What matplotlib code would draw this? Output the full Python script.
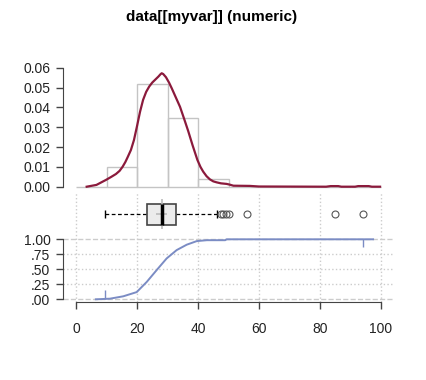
"""
    numeric summary plot: density + boxplot + ecdf
"""

import matplotlib
matplotlib.use("Agg")
import matplotlib.pyplot as plt

# data
title = "data[[myvar]] (numeric)"

hist_edges = [0, 10, 20, 30, 40, 50, 60, 70, 80, 90]
hist_dens = [0.0, 0.0100, 0.0516, 0.0345, 0.0037, 0.0001, 0.0, 0.0, 0.0001, 0.0001]

dens_x = [3.5, 6.7, 9.8, 11.5, 13.1, 14.3, 15.3, 16.2, 17.0, 18.0, 19.0, 20.0,
          21.0, 22.0, 23.0, 24.0, 25.0, 26.0, 27.0, 27.7, 28.1, 28.6, 29.5,
          30.5, 31.4, 32.5, 34.1, 35.5, 36.8, 38.2, 39.8, 40.8, 41.7, 42.8,
          43.9, 45.0, 46.1, 47.5, 49.4, 50.5, 51.6, 57.0, 60.0, 82.0, 83.5,
          86.0, 87.0, 91.5, 92.5, 96.0, 97.0, 99.7]
dens_y = [0.0, 0.0009, 0.0034, 0.0049, 0.0064, 0.0080, 0.0101, 0.0125, 0.0151,
          0.0185, 0.0235, 0.0305, 0.0378, 0.0438, 0.0478, 0.0505, 0.0525,
          0.0540, 0.0555, 0.0567, 0.0572, 0.0568, 0.0552, 0.0525, 0.0496,
          0.0458, 0.0403, 0.0340, 0.0280, 0.0210, 0.0135, 0.0100, 0.0076,
          0.0053, 0.0037, 0.0027, 0.0022, 0.0017, 0.0014, 0.0010, 0.0005,
          0.0004, 0.0001, 0.0, 0.0003, 0.0003, 0.0, 0.0, 0.0003, 0.0003,
          0.0, 0.0]

box_stats = dict(whislo=9.5, q1=23.2, med=28.1, q3=32.7, whishi=46.3)
outliers = [47.4, 48.3, 49.2, 50.3, 56.1, 85.0, 94.1]
mean_val = 28.3
mean_span = [26.2, 29.7]

cdf_x = [6.5, 8.5, 10.0, 11.1, 15.5, 19.9, 23.2, 26.5, 29.7, 33.0, 36.3,
         39.6, 42.9, 48.9, 49.4, 97.4]
cdf_y = [0.0, 0.004, 0.008, 0.01, 0.05, 0.12, 0.29, 0.49, 0.68, 0.82, 0.91,
         0.97, 0.985, 0.985, 1.0, 1.0]
data_min = 9.5
data_max = 94.1

x_ticks = [0, 20, 40, 60, 80, 100]
dens_ticks = [0.0, 0.01, 0.02, 0.03, 0.04, 0.05, 0.06]
dens_labels = ["0.00", "0.01", "0.02", "0.03", "0.04", "0.05", "0.06"]
cdf_ticks = [0.0, 0.25, 0.5, 0.75, 1.0]
cdf_labels = [".00", ".25", ".50", ".75", "1.00"]

# look
plt.rcParams['font.family'] = ['Liberation Sans', 'DejaVu Sans']
W, H = 426, 380
axis_col = '#444444'
grid_col = '#cccccc'
xlim = ((63 - 76) / 3.05, (394 - 76) / 3.05)


def frac(left, top, right, bottom):
    """ pixel box -> figure fraction rect """
    return [left / W, 1 - bottom / H, (right - left) / W, (bottom - top) / H]


fig = plt.figure(figsize=(W / 100, H / 100), dpi=100)
fig.text(212 / W, 1 - 17 / H, title, ha='center', va='center',
         fontsize=11, fontweight='bold')

# density panel
ax1 = fig.add_axes(frac(63, 60, 394, 190))
ax1.bar(hist_edges, hist_dens, width=10, align='edge', fill=False,
        edgecolor='#c4c4c4', linewidth=1)
ax1.plot(dens_x, dens_y, color='#8b1a3c', linewidth=1.6)
ax1.set_xlim(*xlim)
ax1.set_ylim(-3.3 / 1983, 0.06 + 7.7 / 1983)
for s in ['top', 'right', 'bottom']:
    ax1.spines[s].set_visible(False)
ax1.spines['left'].set_bounds(0, 0.06)
ax1.spines['left'].set_color(axis_col)
ax1.set_xticks([])
ax1.set_yticks(dens_ticks, dens_labels)
ax1.tick_params(axis='y', direction='out', length=5, width=1, pad=4,
                color=axis_col, labelsize=10, labelcolor='#222222')

# box panel
ax2 = fig.add_axes(frac(63, 190, 394, 232))
ax2.set_xlim(*xlim)
ax2.set_ylim(0, 1)
ax2.axis('off')
ax2.vlines(x_ticks, 0, 0.93, colors=grid_col, linestyles=':', linewidth=1)
yc, hh, cap = 0.421, 0.25, 0.095
ax2.plot([box_stats['whislo'], box_stats['q1']], [yc, yc], color='black',
         linestyle='--', linewidth=0.9, dashes=(3, 2))
ax2.plot([box_stats['q3'], box_stats['whishi']], [yc, yc], color='black',
         linestyle='--', linewidth=0.9, dashes=(3, 2))
ax2.vlines([box_stats['whislo'], box_stats['whishi']], yc - cap, yc + cap,
           colors='black', linewidth=1)
ax2.add_patch(plt.Rectangle((box_stats['q1'], yc - hh),
                            box_stats['q3'] - box_stats['q1'], 2 * hh,
                            facecolor='#ececec', edgecolor='#444444',
                            linewidth=1.2, zorder=3))
ax2.vlines([mean_val], 0.07, 0.786, colors='#bbbbbb', linewidth=1.2, zorder=4)
ax2.hlines([yc], mean_span[0], mean_span[1], colors='#bbbbbb', linewidth=1.2,
           zorder=4)
ax2.vlines([box_stats['med']], yc - hh, yc + hh, colors='black',
           linewidth=2.5, zorder=5)
ax2.plot(outliers, [yc] * len(outliers), 'o', mfc='none', mec='#555555',
         ms=5, mew=0.8)

# ecdf panel
ax3 = fig.add_axes(frac(63, 232, 394, 302.3))
ax3.set_xlim(*xlim)
ax3.set_ylim(-0.05, 1 + 7.3 / 60)
ax3.vlines(x_ticks, -0.05, 1.2, colors=grid_col, linestyles=':', linewidth=1)
for yv in cdf_ticks:
    ls = '--' if yv in (0.0, 1.0) else ':'
    ax3.axhline(yv, color=grid_col, linestyle=ls, linewidth=1)
ax3.plot(cdf_x, cdf_y, color='#7b8cc4', linewidth=1.4)
ax3.vlines([data_min], 0, 0.15, colors='#7b8cc4', linewidth=1)
ax3.vlines([data_max], 0.87, 1.0, colors='#7b8cc4', linewidth=1)
for s in ['top', 'right']:
    ax3.spines[s].set_visible(False)
ax3.spines['left'].set_bounds(0, 1)
ax3.spines['bottom'].set_bounds(0, 100)
ax3.spines['left'].set_color(axis_col)
ax3.spines['bottom'].set_color(axis_col)
ax3.set_yticks(cdf_ticks, cdf_labels)
ax3.set_xticks(x_ticks, [str(t) for t in x_ticks])
ax3.tick_params(axis='y', direction='out', length=5, width=1, pad=4,
                color=axis_col, labelsize=10, labelcolor='#222222')
ax3.tick_params(axis='x', direction='out', length=5, width=1, pad=9,
                color=axis_col, labelsize=10, labelcolor='#222222')

fig.savefig('out.png', dpi=100)
